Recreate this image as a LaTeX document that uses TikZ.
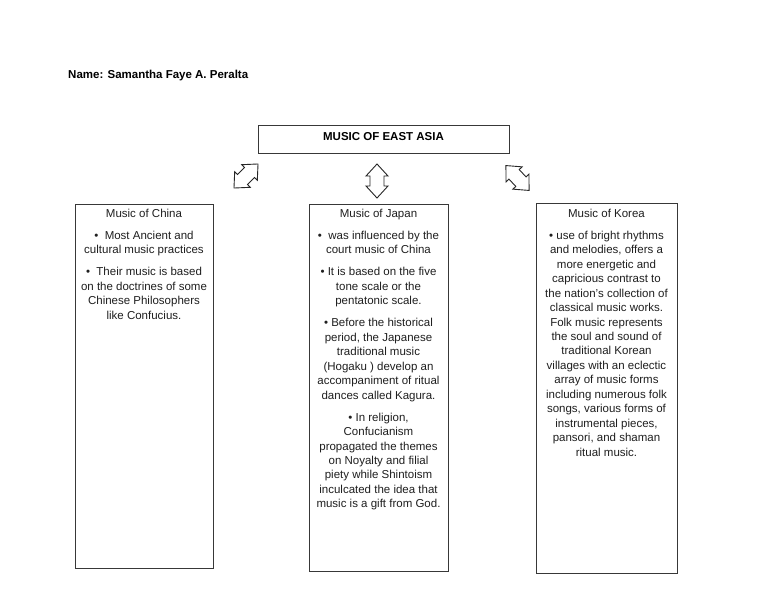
\documentclass[tikz,border=0pt]{standalone}
\usepackage{fontspec}
\setmainfont{Liberation Sans}
\begin{document}
\begin{tikzpicture}[x=1pt,y=-1pt,
  box/.style={draw=black!78,line width=1pt,inner sep=0pt},
  txt/.style={anchor=north,align=center,inner sep=0pt,text=black!88,font=\fontsize{11.5pt}{14.45pt}\selectfont},
  boldtxt/.style={inner sep=0pt,font=\bfseries\fontsize{11.5pt}{14pt}\selectfont},
  blockarrow/.style={draw=black!85,line width=0.9pt,fill=white,line join=miter},
  dblarr/.pic={\draw[blockarrow] (0,-17) -- (11,-5) -- (7,-5) -- (7,5) -- (11,5) -- (0,17) -- (-11,5) -- (-7,5) -- (-7,-5) -- (-11,-5) -- cycle;}]
\useasboundingbox (0,0) rectangle (768,594);
\fill[white] (0,0) rectangle (768,594);

\node[boldtxt,anchor=base west] (name) at (68,78) {Name: Samantha Faye A. Peralta};

\node[box,minimum width=251pt,minimum height=28pt] (title) at (383.5,139) {};
\node[boldtxt,anchor=base] (titletext) at (383.5,140) {MUSIC OF EAST ASIA};

\pic[rotate=-45] (arrowleft) at (246,176) {dblarr};
\pic (arrowmid) at (377,181) {dblarr};
\pic[rotate=43] (arrowright) at (517.5,178) {dblarr};

\node[box,minimum width=138pt,minimum height=364pt] (china) at (144,386) {};
\node[box,minimum width=139pt,minimum height=367pt] (japan) at (378.5,387.5) {};
\node[box,minimum width=141pt,minimum height=370pt] (korea) at (606.5,388) {};

\node[txt] (chinatext) at (144,207) {\strut Music of China\\[7.6pt]
•~ Most Ancient and\\
cultural music practices\\[7.6pt]
•~ Their music is based\\
on the doctrines of some\\
Chinese Philosophers\\
like Confucius.};

\node[txt] (japantext) at (378.5,207) {\strut Music of Japan\\[7.6pt]
•~ was influenced by the\\
court music of China\\[7.6pt]
• It is based on the five\\
tone scale or the\\
pentatonic scale.\\[7.6pt]
• Before the historical\\
period, the Japanese\\
traditional music\\
(Hogaku ) develop an\\
accompaniment of ritual\\
dances called Kagura.\\[7.6pt]
• In religion,\\
Confucianism\\
propagated the themes\\
on Noyalty and filial\\
piety while Shintoism\\
inculcated the idea that\\
music is a gift from God.};

\node[txt] (koreatext) at (606.5,207) {\strut Music of Korea\\[7.6pt]
• use of bright rhythms\\
and melodies, offers a\\
more energetic and\\
capricious contrast to\\
the nation’s collection of\\
classical music works.\\
Folk music represents\\
the soul and sound of\\
traditional Korean\\
villages with an eclectic\\
array of music forms\\
including numerous folk\\
songs, various forms of\\
instrumental pieces,\\
pansori, and shaman\\
ritual music.};
\end{tikzpicture}
\end{document}
